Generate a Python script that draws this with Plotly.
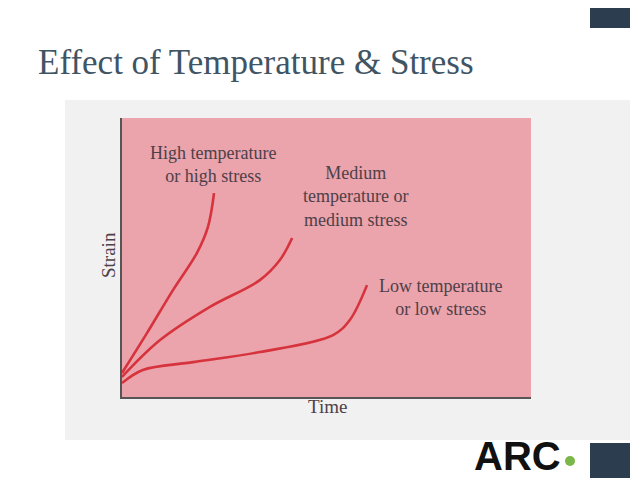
import plotly.graph_objects as go

W, H = 638, 478
OFF = 8  # page body margin

# creep curves, time (0-100) vs strain (0-100)
low_t = [0, 5.1, 17.4, 33.7, 51.6, 55.7, 59.9]
low_s = [5.0, 9.7, 12.5, 16.1, 22.2, 27.6, 40.1]
med_t = [0, 9.3, 21.5, 33.7, 38.6, 41.6]
med_s = [7.2, 20.4, 32.3, 41.9, 49.1, 57.0]
high_t = [0, 6.1, 12.5, 18.3, 21.0, 22.5]
high_s = [8.6, 22.9, 38.4, 51.6, 60.9, 73.1]

labels = ["High temperature<br>or high stress",
          "Medium<br>temperature or<br>medium stress",
          "Low temperature<br>or low stress"]
label_x = [22.3, 57.0, 77.8]
label_y = [83.5, 72.0, 35.5]

def px(x):
    return (x - OFF) / W

def py(y):
    return 1 - (y - OFF) / H

fig = go.Figure()
for t, s in [(low_t, low_s), (med_t, med_s), (high_t, high_s)]:
    fig.add_trace(go.Scatter(x=t, y=s, mode='lines', line=dict(color='#d6333d', width=2.6, shape='spline'),
                             showlegend=False, hoverinfo='skip'))

serif = "Liberation Serif"
for txt, x, y in zip(labels, label_x, label_y):
    fig.add_annotation(x=x, y=y, text=txt, showarrow=False, font=dict(family=serif, size=18, color='#4e4048'))

shapes = [
    dict(type='rect', xref='paper', yref='paper', x0=px(65), x1=px(646), y0=py(440), y1=py(100),
         fillcolor='#f2f1f1', line_width=0, layer='below'),
    dict(type='rect', xref='paper', yref='paper', x0=px(122), x1=px(531), y0=py(397), y1=py(118),
         fillcolor='#eba3ac', line_width=0, layer='below'),
    dict(type='rect', xref='paper', yref='paper', x0=px(590), x1=1.1, y0=py(28), y1=1.1,
         fillcolor='#2c3d4f', line_width=0),
    dict(type='rect', xref='paper', yref='paper', x0=px(590), x1=1.1, y0=-0.1, y1=py(443),
         fillcolor='#2c3d4f', line_width=0),
    dict(type='rect', xref='paper', yref='paper', x0=px(632), x1=1.1, y0=py(432), y1=py(385),
         fillcolor='#7ab648', line_width=0),
    dict(type='circle', xref='paper', yref='paper', x0=px(565), x1=px(575), y0=py(466), y1=py(456),
         fillcolor='#7ab648', line_width=0),
]

fig.add_annotation(xref='paper', yref='paper', x=px(36), y=py(62), xanchor='left', yanchor='middle',
                   text="Effect of Temperature & Stress", showarrow=False,
                   font=dict(family=serif, size=35, color='#3f5464'))
fig.add_annotation(xref='paper', yref='paper', x=px(108), y=py(255), xanchor='center', text="Strain",
                   textangle=-90, showarrow=False, font=dict(family=serif, size=19, color='#4e4048'))
fig.add_annotation(xref='paper', yref='paper', x=px(328), y=py(419), text="Time",
                   showarrow=False, font=dict(family=serif, size=19, color='#4e4048'))
fig.add_annotation(xref='paper', yref='paper', x=px(563), y=py(432), xanchor='right', yanchor='top',
                   text="<b>ARC</b>", showarrow=False,
                   font=dict(family="Liberation Sans", size=40, color='#111111'))

fig.update_layout(
    width=W, height=H, margin=dict(l=0, r=0, t=0, b=0),
    paper_bgcolor='white', plot_bgcolor='rgba(0,0,0,0)',
    shapes=shapes,
    xaxis=dict(range=[0, 100], domain=[px(122), px(531)], showgrid=False, zeroline=False,
               showticklabels=False, showline=True, linecolor='#555', linewidth=2),
    yaxis=dict(range=[0, 100], domain=[py(397), py(118)], showgrid=False, zeroline=False,
               showticklabels=False, showline=True, linecolor='#555', linewidth=2),
)
fig.write_html("out.html")
